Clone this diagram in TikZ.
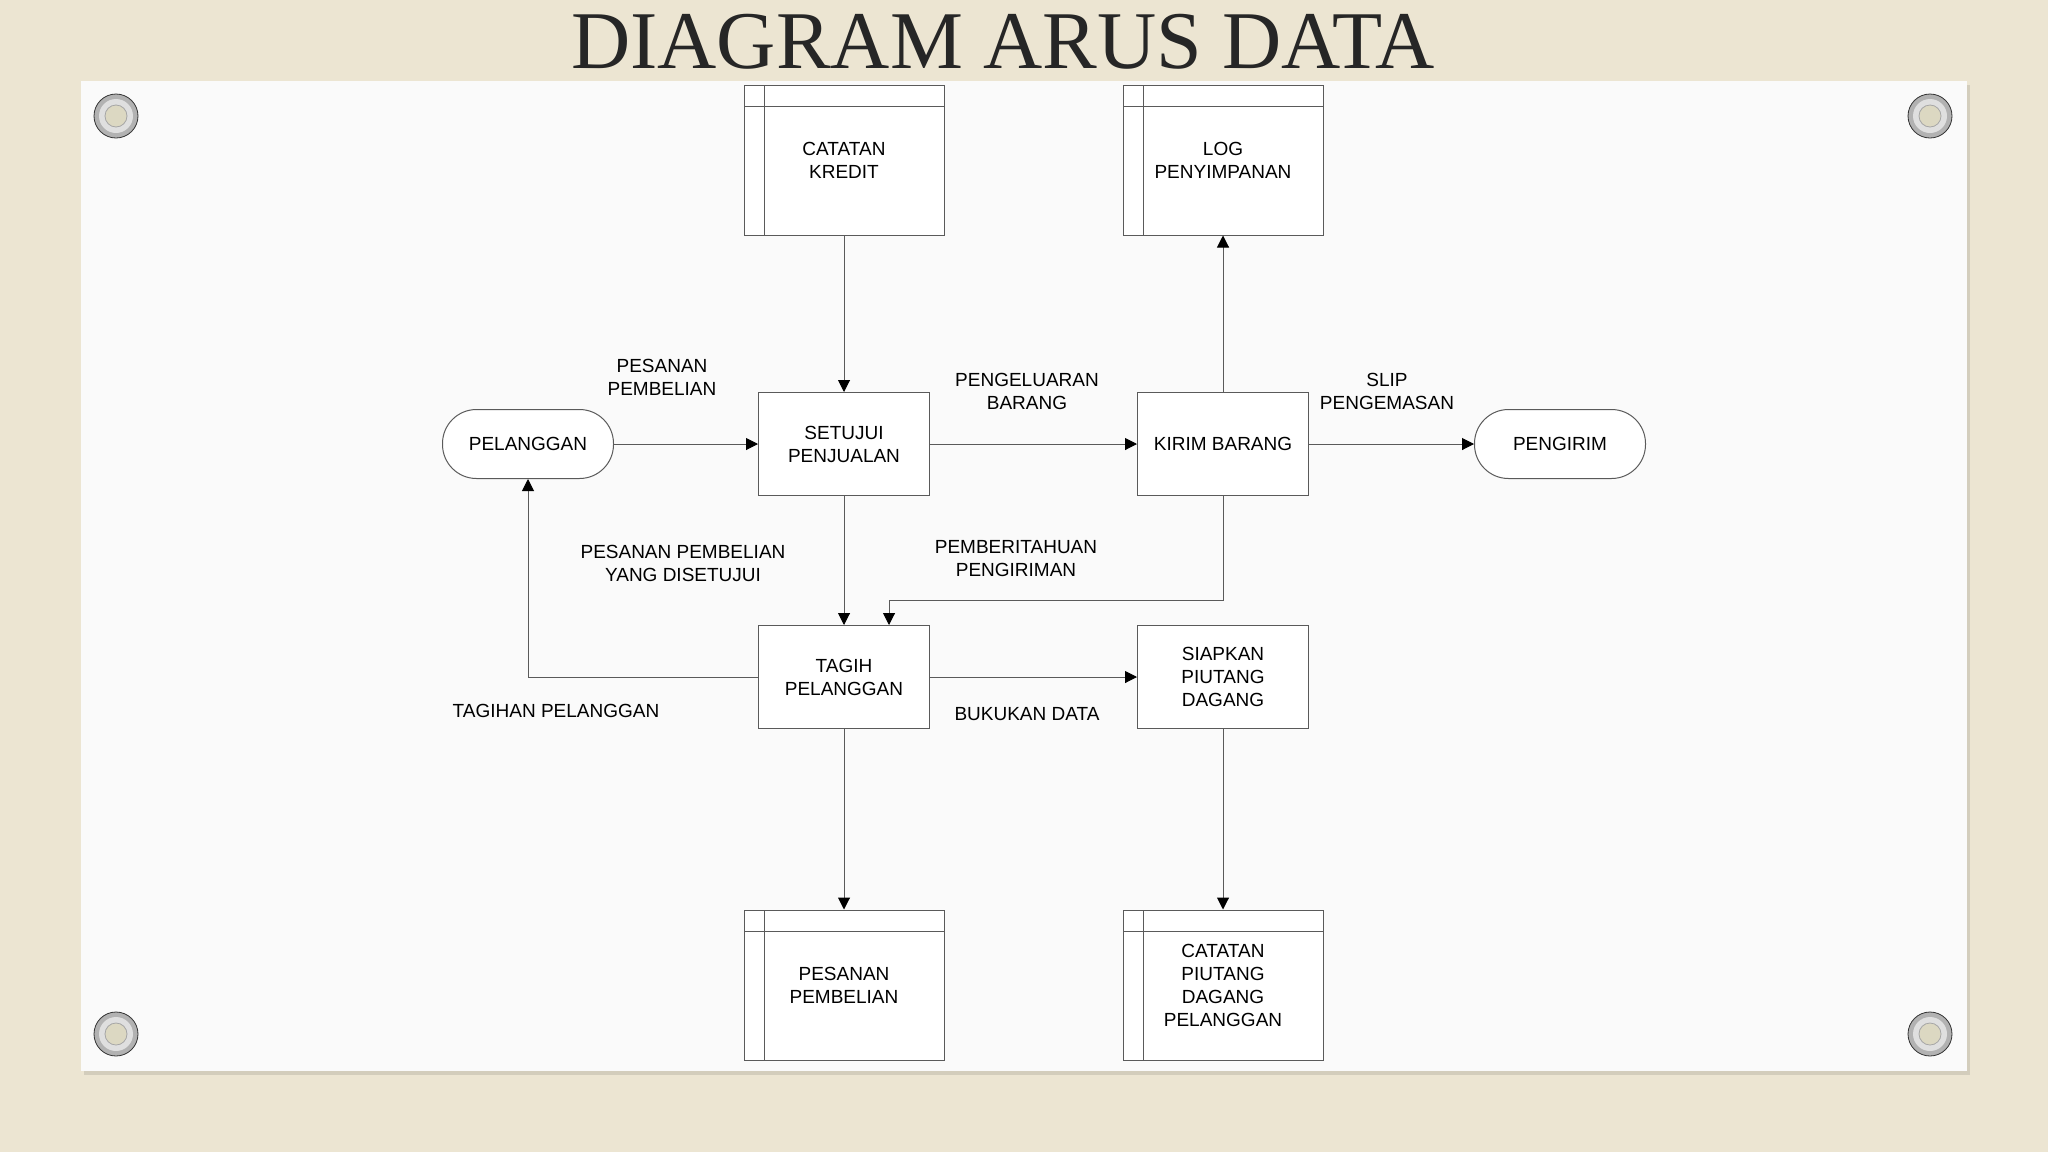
\documentclass[tikz,border=0pt]{standalone}
\usepackage{fontspec}
\setmainfont{Liberation Sans}
\newfontfamily\judulfont{Liberation Serif}
\usetikzlibrary{arrows.meta}

\definecolor{kanvas}{HTML}{ECE5D2}
\definecolor{papan}{HTML}{FAFAFA}
\definecolor{garis}{HTML}{5A5A5A}
\definecolor{lubang}{HTML}{DCD8C2}

\begin{document}
\begin{tikzpicture}[x=1pt,y=-1pt,
    font=\fontsize{19}{23}\selectfont,
    proses/.style={draw=garis,line width=1pt,fill=white,minimum width=171pt,minimum height=103pt,inner sep=0pt,align=center},
    entitas/.style={draw=garis,line width=1pt,fill=white,rounded corners=34pt,minimum width=171pt,minimum height=69pt,inner sep=0pt,align=center},
    simpanan/.style={draw=garis,line width=1pt,fill=white,minimum width=200pt,minimum height=150pt,inner sep=0pt,align=center,
      path picture={
        \draw[garis,line width=1pt] ([xshift=20pt]path picture bounding box.north west) -- ([xshift=20pt]path picture bounding box.south west);
        \draw[garis,line width=1pt] ([yshift=-21pt]path picture bounding box.north west) -- ([yshift=-21pt]path picture bounding box.north east);
      }},
    alir/.style={draw=garis,line width=1pt,-{Triangle[width=12pt,length=12pt,color=black]}},
    label/.style={align=center,inner sep=0pt}]
    \useasboundingbox (0,0) rectangle (2048,1152);
    \fill[kanvas] (0,0) rectangle (2048,1152);
    % papan putih
    \fill[black,opacity=0.10] (84,85) rectangle (1970,1075);
    \fill[papan] (81,81) rectangle (1967,1071);
    \foreach \gx/\gy in {116/116,1930/116,116/1034,1930/1034} {
      \fill[gray!60,draw=gray!40!black,line width=0.8pt] (\gx,\gy) circle (22);
      \fill[gray!25] (\gx,\gy) circle (17);
      \fill[lubang,draw=gray!70,line width=0.8pt] (\gx,\gy) circle (11);
    }
    \node[anchor=base,font=\judulfont\fontsize{82}{82}\selectfont,text=black!85] (judul) at (1003,68) {DIAGRAM ARUS DATA};

    % simpanan data
    \node[simpanan] (kredit) at (844,160) {CATATAN\\KREDIT};
    \node[simpanan] (log) at (1223,160) {LOG\\PENYIMPANAN};
    \node[simpanan] (pesanan) at (844,985) {PESANAN\\PEMBELIAN};
    \node[simpanan] (piutang) at (1223,985) {CATATAN\\PIUTANG\\DAGANG\\PELANGGAN};

    % proses dan entitas
    \node[entitas] (pelanggan) at (528,444) {PELANGGAN};
    \node[proses] (setujui) at (844,444) {SETUJUI\\PENJUALAN};
    \node[proses] (kirim) at (1223,444) {KIRIM BARANG};
    \node[entitas] (pengirim) at (1560,444) {PENGIRIM};
    \node[proses] (tagih) at (844,677) {TAGIH\\PELANGGAN};
    \node[proses] (siapkan) at (1223,677) {SIAPKAN\\PIUTANG\\DAGANG};

    \coordinate (belok) at (889,600);

    \draw[alir] (kredit) -- (setujui);
    \draw[alir] (kirim) -- (log);
    \draw[alir] (pelanggan) -- (setujui);
    \draw[alir] (setujui) -- (kirim);
    \draw[alir] (kirim) -- (pengirim);
    \draw[alir] (setujui) -- (tagih);
    \draw[alir] (kirim.south) |- (belok) -- (belok |- tagih.north);
    \draw[alir] (tagih.west) -| (pelanggan.south);
    \draw[alir] (tagih) -- (siapkan);
    \draw[alir] (tagih) -- (pesanan);
    \draw[alir] (siapkan) -- (piutang);

    % label aliran
    \node[label] (l1) at (662,377) {PESANAN\\PEMBELIAN};
    \node[label] (l2) at (1027,391) {PENGELUARAN\\BARANG};
    \node[label] (l3) at (1387,391) {SLIP\\PENGEMASAN};
    \node[label] (l4) at (683,563) {PESANAN PEMBELIAN\\YANG DISETUJUI};
    \node[label] (l5) at (1016,559) {PEMBERITAHUAN\\PENGIRIMAN};
    \node[label] (l6) at (556,711) {TAGIHAN PELANGGAN};
    \node[label] (l7) at (1027,714) {BUKUKAN DATA};
\end{tikzpicture}
\end{document}
